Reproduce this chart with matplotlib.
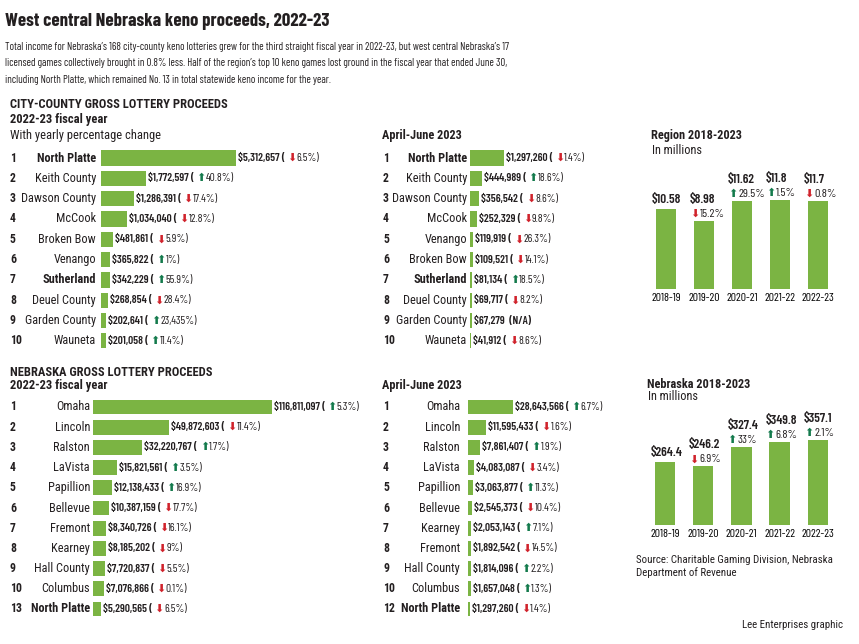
import matplotlib
matplotlib.use('Agg')
import matplotlib.pyplot as plt
import matplotlib.transforms as mtrans
from matplotlib import font_manager

# Data
region_fy_names = ['North Platte', 'Keith County', 'Dawson County', 'McCook', 'Broken Bow',
                   'Venango', 'Sutherland', 'Deuel County', 'Garden County', 'Wauneta']
region_fy_ranks = [1, 2, 3, 4, 5, 6, 7, 8, 9, 10]
region_fy = [5312657, 1772597, 1286391, 1034040, 481861, 365822, 342229, 268854, 202641, 201058]
region_fy_chg = [-6.5, 40.8, -17.4, -12.8, -5.9, 1, 55.9, -28.4, 23435, 11.4]

region_q_names = ['North Platte', 'Keith County', 'Dawson County', 'McCook', 'Venango',
                  'Broken Bow', 'Sutherland', 'Deuel County', 'Garden County', 'Wauneta']
region_q_ranks = [1, 2, 3, 4, 5, 6, 7, 8, 9, 10]
region_q = [1297260, 444989, 356542, 252329, 119919, 109521, 81134, 69717, 67279, 41912]
region_q_chg = [-1.4, 18.6, -8.6, -9.8, -26.3, -14.1, 18.5, -8.2, None, -8.6]

state_fy_names = ['Omaha', 'Lincoln', 'Ralston', 'LaVista', 'Papillion', 'Bellevue',
                  'Fremont', 'Kearney', 'Hall County', 'Columbus', 'North Platte']
state_fy_ranks = [1, 2, 3, 4, 5, 6, 7, 8, 9, 10, 13]
state_fy = [116811097, 49872603, 32220767, 15821561, 12138433, 10387159,
            8340726, 8185202, 7720837, 7076866, 5290565]
state_fy_chg = [5.3, -11.4, 1.7, 3.5, 16.9, -17.7, -16.1, -9, -5.5, -0.1, -6.5]

state_q_names = ['Omaha', 'Lincoln', 'Ralston', 'LaVista', 'Papillion', 'Bellevue',
                 'Kearney', 'Fremont', 'Hall County', 'Columbus', 'North Platte']
state_q_ranks = [1, 2, 3, 4, 5, 6, 7, 8, 9, 10, 12]
state_q = [28643566, 11595433, 7861407, 4083087, 3063877, 2545373,
           2053143, 1892542, 1814096, 1657048, 1297260]
state_q_chg = [6.7, -1.6, 1.9, -3.4, 11.3, -10.4, 7.1, -14.5, 2.2, 1.3, -1.4]

years = ['2018-19', '2019-20', '2020-21', '2021-22', '2022-23']
region_years = [10.58, 8.98, 11.62, 11.8, 11.7]
region_years_chg = [None, -15.2, 29.5, 1.5, -0.8]
ne_years = [264.4, 246.2, 327.4, 349.8, 357.1]
ne_years_chg = [None, -6.9, 33, 6.8, 2.1]

bold_names = ['North Platte', 'Sutherland']

# Style
GREEN = '#7bb443'
RED = '#d0222b'
DKGREEN = '#137a4c'
INK = '#231f20'

have = {f.name for f in font_manager.fontManager.ttflist}


def first_font(*names):
    for n in names:
        if n in have:
            return n
    return 'DejaVu Sans'


NARROW = dict(family=first_font('Barlow Condensed', 'Roboto Condensed', 'Archivo Narrow',
                                'Liberation Sans Narrow'))
LABEL = dict(family=first_font('Roboto Condensed', 'Open Sans', 'Noto Sans'))
ARROW = dict(family='DejaVu Sans')

plt.rcParams['font.family'] = [LABEL['family'], 'DejaVu Sans']
plt.rcParams['text.color'] = INK

W, H = 859, 644
fig = plt.figure(figsize=(W / 100, H / 100), dpi=100)


def fx(x):
    return x / W


def fy(y):
    return 1 - y / H


def axes_px(left, top, right, bottom):
    return fig.add_axes([left / W, 1 - bottom / H, (right - left) / W, (bottom - top) / H])


def pct_text(v):
    return format(abs(v), ',g') + '%)'


def bar_panel(left, right, row0, step, names, ranks, values, changes, px_per_m, rank_x, name_pad):
    n = len(values)
    ax = axes_px(left, row0 - step / 2, right, row0 + (n - 0.5) * step)
    ax.barh(range(n), values, height=0.74, color=GREEN)
    ax.set_xlim(0, (right - left) / px_per_m * 1e6)
    ax.set_ylim(n - 0.5, -0.5)
    ax.axis('off')
    tr = mtrans.blended_transform_factory(fig.transFigure, ax.transData)
    for i, (nm, rk, v, c) in enumerate(zip(names, ranks, values, changes)):
        b = 'bold' if nm in bold_names else 'normal'
        ax.text(fx(rank_x), i, str(rk), transform=tr, ha='left', va='center',
                fontsize=8.5, weight='bold')
        ax.annotate(nm, xy=(0, i), xytext=(-name_pad, 0), textcoords='offset pixels',
                    ha='right', va='center', fontsize=8.8, weight=b)
        if c is None:
            ax.annotate('${:,}  (N/A)'.format(v), xy=(v, i), xytext=(2, 0),
                        textcoords='offset pixels', ha='left', va='center',
                        fontsize=8.2, weight='semibold', **NARROW)
            continue
        t = ax.annotate('${:,} ('.format(v), xy=(v, i), xytext=(2, 0),
                        textcoords='offset pixels', ha='left', va='center',
                        fontsize=8.2, weight='semibold', **NARROW)
        a = ax.annotate('\u2B07' if c < 0 else '\u2B06', xy=(1, 0.5), xycoords=t,
                        xytext=(2, 0), textcoords='offset pixels', ha='left', va='center',
                        fontsize=8, color=RED if c < 0 else DKGREEN, **ARROW)
        ax.annotate(pct_text(c), xy=(1, 0.5), xycoords=a, ha='left', va='center',
                    fontsize=8.2, **NARROW)
    return ax


def year_panel(c0, step, base_y, top_y, px_per_unit, values, changes):
    ax = axes_px(c0 - step / 2, top_y, c0 + 4.5 * step, base_y)
    x = range(len(values))
    ax.bar(x, values, width=0.53, color=GREEN)
    ax.set_xlim(-0.5, 4.5)
    ax.set_ylim(0, (base_y - top_y) / px_per_unit)
    for s in ax.spines.values():
        s.set_visible(False)
    ax.set_yticks([])
    ax.set_xticks(list(x))
    ax.set_xticklabels(years, fontsize=8.5, **NARROW)
    ax.tick_params(axis='x', length=0, pad=3)
    for i, (v, c) in enumerate(zip(values, changes)):
        xl = i - 0.265
        if c is None:
            ax.annotate('${:g}'.format(v), xy=(xl, v), xytext=(-4, 3),
                        textcoords='offset pixels', ha='left', va='bottom',
                        fontsize=9.5, weight='semibold', **NARROW)
            continue
        a = ax.annotate('\u2B07' if c < 0 else '\u2B06', xy=(xl, v), xytext=(-4, 2),
                        textcoords='offset pixels', ha='left', va='bottom',
                        fontsize=8, color=RED if c < 0 else DKGREEN, **ARROW)
        ax.annotate(format(abs(c), 'g') + '%', xy=(1, 0), xycoords=a, xytext=(1, 0),
                    textcoords='offset pixels', ha='left', va='bottom',
                    fontsize=8.8, **NARROW)
        ax.annotate('${:g}'.format(v), xy=(xl, v), xytext=(-4, 15),
                    textcoords='offset pixels', ha='left', va='bottom',
                    fontsize=9.5, weight='semibold', **NARROW)
    return ax


# Headline and intro
fig.text(fx(5), fy(22), 'West central Nebraska keno proceeds, 2022-23', ha='left', va='center',
         fontsize=13.5, weight='bold', **NARROW)
intro = ["Total income for Nebraska\u2019s 168 city-county keno lotteries grew for the third straight fiscal year in 2022-23, but west central Nebraska\u2019s 17",
         "licensed games collectively brought in 0.8% less. Half of the region\u2019s top 10 keno games lost ground in the fiscal year that ended June 30,",
         "including North Platte, which remained No. 13 in total statewide keno income for the year."]
for k, line in enumerate(intro):
    fig.text(fx(5), fy(47 + 16.5 * k), line, ha='left', va='center', fontsize=7.8, **NARROW)

# Section headings
fig.text(fx(10), fy(105), 'CITY-COUNTY GROSS LOTTERY PROCEEDS', ha='left', va='center',
         fontsize=9, weight='bold')
fig.text(fx(10), fy(120), '2022-23 fiscal year', ha='left', va='center', fontsize=9, weight='bold')
fig.text(fx(10), fy(135), 'With yearly percentage change', ha='left', va='center', fontsize=9)
fig.text(fx(382), fy(135), 'April-June 2023', ha='left', va='center', fontsize=8.8, weight='bold')
fig.text(fx(651), fy(135), 'Region 2018-2023', ha='left', va='center', fontsize=8.8, weight='bold')
fig.text(fx(652), fy(151), 'In millions', ha='left', va='center', fontsize=8.8)

fig.text(fx(10), fy(372), 'NEBRASKA GROSS LOTTERY PROCEEDS', ha='left', va='center',
         fontsize=9, weight='bold')
fig.text(fx(10), fy(386), '2022-23 fiscal year', ha='left', va='center', fontsize=9, weight='bold')
fig.text(fx(382), fy(385), 'April-June 2023', ha='left', va='center', fontsize=8.8, weight='bold')
fig.text(fx(647), fy(385), 'Nebraska 2018-2023', ha='left', va='center', fontsize=8.8, weight='bold')
fig.text(fx(648), fy(397), 'In millions', ha='left', va='center', fontsize=8.8)

# Bar panels
bar_panel(101, 380, 158, 20.33, region_fy_names, region_fy_ranks, region_fy, region_fy_chg,
          25.4, 10, 5)
bar_panel(470, 620, 158, 20.33, region_q_names, region_q_ranks, region_q, region_q_chg,
          26.2, 383, 3)
bar_panel(93, 380, 407, 20.2, state_fy_names, state_fy_ranks, state_fy, state_fy_chg,
          1.532, 10, 3)
bar_panel(468, 620, 407, 20.2, state_q_names, state_q_ranks, state_q, state_q_chg,
          1.571, 383, 8)

# Yearly totals
year_panel(666, 38, 289, 160, 7.56, region_years, region_years_chg)
year_panel(665, 38.2, 525, 405, 0.238, ne_years, ne_years_chg)

# Footer
fig.text(fx(636), fy(560), 'Source: Charitable Gaming Division, Nebraska', ha='left', va='center',
         fontsize=7.8)
fig.text(fx(636), fy(573), 'Department of Revenue', ha='left', va='center', fontsize=7.8)
fig.text(fx(843), fy(625), 'Lee Enterprises graphic', ha='right', va='center', fontsize=7.8)

fig.savefig('out.png', dpi=100, facecolor='white')
